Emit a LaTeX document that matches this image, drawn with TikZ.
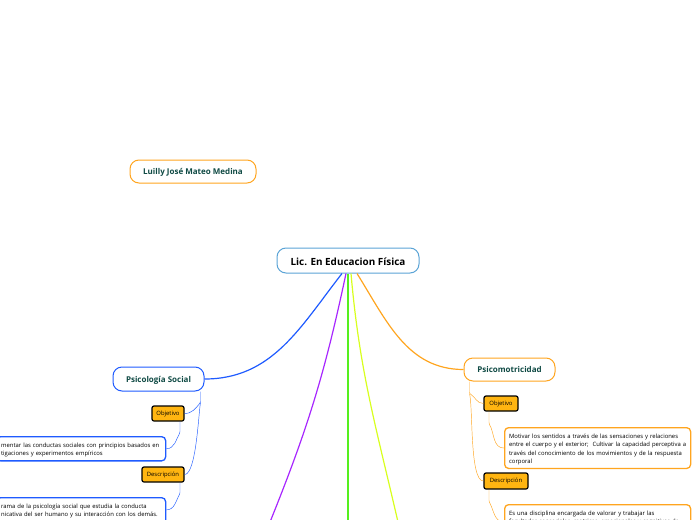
\documentclass[tikz,border=0pt]{standalone}
\usepackage{fontspec}
\setmainfont{Open Sans}
\definecolor{rootblue}{HTML}{5BA4D6}
\definecolor{socialblue}{HTML}{1F5BFF}
\definecolor{motorange}{HTML}{FFA51F}
\definecolor{labelfill}{HTML}{FFB511}
\definecolor{lilac}{HTML}{A726FF}
\definecolor{brightgreen}{HTML}{55F01E}
\definecolor{limeyellow}{HTML}{D8FF1E}
\definecolor{topicink}{HTML}{0F4A44}
\tikzset{
  topicbox/.style={draw=#1,line width=1pt,rounded corners=9pt,fill=white,text=topicink,font=\fontsize{8}{10}\selectfont\bfseries,inner sep=0pt,text height=7.5pt,text depth=1.1pt},
  labelbox/.style={draw=black,line width=1.2pt,rounded corners=2pt,fill=labelfill,font=\fontsize{5.9}{7}\selectfont,inner sep=0pt},
  textbox/.style={draw=#1,line width=1.3pt,rounded corners=4pt,fill=white,font=\fontsize{5.9}{8.3}\selectfont,align=left,anchor=north west,inner ysep=3.5pt,text height=7.5pt},
  link/.style={draw=#1,line width=0.45pt,rounded corners=1pt}
}
\begin{document}
\begin{tikzpicture}[x=1pt,y=-1pt]
\useasboundingbox (0,0) rectangle (697,520);
\clip (0,0) rectangle (697,520);
\node[topicbox=rootblue,minimum width=142pt,minimum height=25pt,font=\fontsize{9.9}{11}\selectfont\bfseries,text=black,text height=10pt,text depth=1pt] (root) at (348,260.5) {Lic. En Educacion Física};
\node[topicbox=motorange,minimum width=126pt,minimum height=23pt] (author) at (193,171.5) {Luilly José Mateo Medina};
\node[topicbox=socialblue,minimum width=91pt,minimum height=24pt] (social) at (158.5,379) {Psicología Social};
\node[topicbox=motorange,minimum width=91pt,minimum height=23pt] (motor) at (509.5,369.5) {Psicomotricidad};
% left branch
\node[labelbox,minimum width=32pt,minimum height=15pt] (objsocial) at (168,413.5) {Objetivo};
\node[labelbox,minimum width=42pt,minimum height=15pt] (descsocial) at (163,474.5) {Descripción};
\node[textbox=socialblue,text width=160pt,inner xsep=4.5pt] (objsocialtext) at (-4,436) {mentar las conductas sociales con principios basados en\\tigaciones y experimentos empíricos};
\node[textbox=socialblue,text width=160pt,inner xsep=4.5pt,text depth=20pt] (descsocialtext) at (-4,497) {rama de la psicología social que estudia la conducta\\nicativa del ser humano y su interacción con los demás.};
% right branch
\node[labelbox,minimum width=34pt,minimum height=15pt] (objmotor) at (501,403.5) {Objetivo};
\node[labelbox,minimum width=44pt,minimum height=16pt] (descmotor) at (506,481) {Descripción};
\node[textbox=motorange,text width=177pt,inner xsep=4.5pt] (objmotortext) at (504,427) {Motivar los sentidos a través de las sensaciones y relaciones\\entre el cuerpo y el exterior;\ \ Cultivar la capacidad perceptiva a\\través del conocimiento de los movimientos y de la respuesta\\corporal};
\node[textbox=motorange,text width=177pt,inner xsep=4.5pt,text depth=20pt] (descmotortext) at (504,504) {Es una disciplina encargada de valorar y trabajar las\\facultades sensoriales, motrices, emocionales y cognitivas de};
% free ends below the picture
\coordinate (lilacend) at (270,522);
\coordinate (greenend) at (348,522);
\coordinate (limeend) at (398,522);
% main branches
\draw[socialblue,line width=1.2pt] ([xshift=-6pt]root.south) to [out=-128,in=0] (social.east);
\draw[lilac,line width=1.2pt] ([xshift=-2pt]root.south) to [out=-102,in=68] (lilacend);
\draw[brightgreen,line width=1.5pt] (root.south) -- (greenend);
\draw[limeyellow,line width=1.2pt] ([xshift=3pt]root.south) to [out=-85,in=103] (limeend);
\draw[motorange,line width=1.2pt] ([xshift=9pt]root.south) to [out=-58,in=180] (motor.west);
% small links
\draw[link=socialblue] ([xshift=42pt]social.south) -- ([xshift=42pt,yshift=-11pt]social.south) to [out=-130,in=0] (objsocial.east);
\draw[link=socialblue] ([xshift=42pt,yshift=-11pt]social.south) to [out=-100,in=0,looseness=0.4] (descsocial.east);
\draw[link=socialblue] ([xshift=12pt]objsocial.south) -- ([xshift=12pt,yshift=-11pt]objsocial.south) to [out=-120,in=0] (objsocialtext.east);
\draw[link=socialblue] ([xshift=17pt]descsocial.south) -- ([xshift=17pt,yshift=-11pt]descsocial.south) to [out=-120,in=0] ([yshift=5pt]descsocialtext.east);
\draw[link=motorange] ([xshift=-40pt]motor.south) -- ([xshift=-40pt,yshift=-12pt]motor.south) to [out=-30,in=180] (objmotor.west);
\draw[link=motorange] ([xshift=-40pt,yshift=-12pt]motor.south) to [out=-75,in=180,looseness=0.4] (descmotor.west);
\draw[link=motorange] ([xshift=-12pt]objmotor.south) -- ([xshift=-12pt,yshift=-12pt]objmotor.south) to [out=-60,in=180] (objmotortext.west);
\draw[link=motorange] ([xshift=-17pt]descmotor.south) -- ([xshift=-17pt,yshift=-12pt]descmotor.south) to [out=-60,in=180] (descmotortext.west);
\end{tikzpicture}
\end{document}
